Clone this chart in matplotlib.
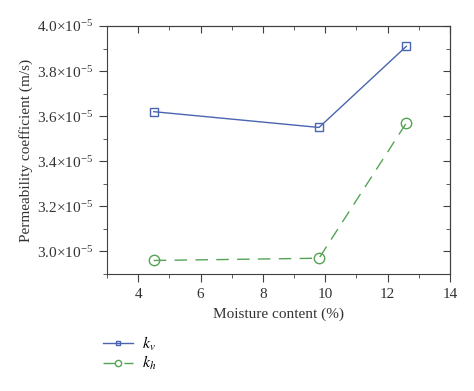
import matplotlib
matplotlib.use("Agg")
import matplotlib.pyplot as plt
from matplotlib.ticker import MultipleLocator, FuncFormatter, NullFormatter

plt.rcParams['font.family'] = ['Liberation Serif', 'DejaVu Serif']
plt.rcParams['mathtext.fontset'] = 'stix'

# data
moisture = [4.5, 9.8, 12.6]
k_v = [3.62e-5, 3.55e-5, 3.91e-5]
k_h = [2.96e-5, 2.97e-5, 3.57e-5]

blue = '#4a65b0'
green = '#55a455'
axcol = '#404040'
txtcol = '#333333'

fig = plt.figure(figsize=(4.74, 3.91), dpi=100)
ax = fig.add_axes([107/474, 1-274/391, 343/474, 248/391])

ax.plot(moisture, k_v, color=blue, lw=1, marker='s', ms=6,
        mfc='none', mec=blue, mew=1, label='$k_v$')
ax.plot(moisture, k_h, color=green, lw=1, ls=(0, (9, 6)), marker='o', ms=7.5,
        mfc='none', mec=green, mew=1, label='$k_h$')

ax.set_xlim(3, 14)
ax.set_ylim(2.9e-5, 4.0e-5)
ax.xaxis.set_major_locator(MultipleLocator(2))
ax.xaxis.set_minor_locator(MultipleLocator(1))
ax.yaxis.set_major_locator(MultipleLocator(0.2e-5))
ax.yaxis.set_minor_locator(MultipleLocator(0.1e-5))
ax.yaxis.set_major_formatter(FuncFormatter(
    lambda v, p: r'$\mathregular{%.1f{\times}10^{-5}}$' % (v * 1e5)))

# left/bottom ticks point out, top/right point in
ax.tick_params(which='both', direction='out', color=axcol,
               labelsize=11, labelcolor=txtcol)
ax.tick_params(which='major', length=6, pad=4)
ax.tick_params(which='minor', length=3)

top = ax.secondary_xaxis('top')
top.xaxis.set_major_locator(MultipleLocator(2))
top.xaxis.set_minor_locator(MultipleLocator(1))
top.xaxis.set_major_formatter(NullFormatter())
right = ax.secondary_yaxis('right')
right.yaxis.set_major_locator(MultipleLocator(0.2e-5))
right.yaxis.set_minor_locator(MultipleLocator(0.1e-5))
right.yaxis.set_major_formatter(NullFormatter())
for sec in (top, right):
    sec.tick_params(which='both', direction='in', color=axcol)
    sec.tick_params(which='major', length=5)
    sec.tick_params(which='minor', length=3)
    for s in sec.spines.values():
        s.set_color(axcol)
for s in ax.spines.values():
    s.set_color(axcol)

ax.set_xlabel('Moisture content (%)', fontsize=11, color=txtcol, labelpad=5)
ax.set_ylabel('Permeability coefficient (m/s)', fontsize=11, color=txtcol, labelpad=3)

fig.legend(loc='upper left', bbox_to_anchor=(103/474, 1-335/391), frameon=False,
           fontsize=11.5, handlelength=1.9, handletextpad=0.55, labelspacing=0.08,
           borderaxespad=0, borderpad=0, markerscale=0.6)

fig.savefig('out.png', dpi=100)
